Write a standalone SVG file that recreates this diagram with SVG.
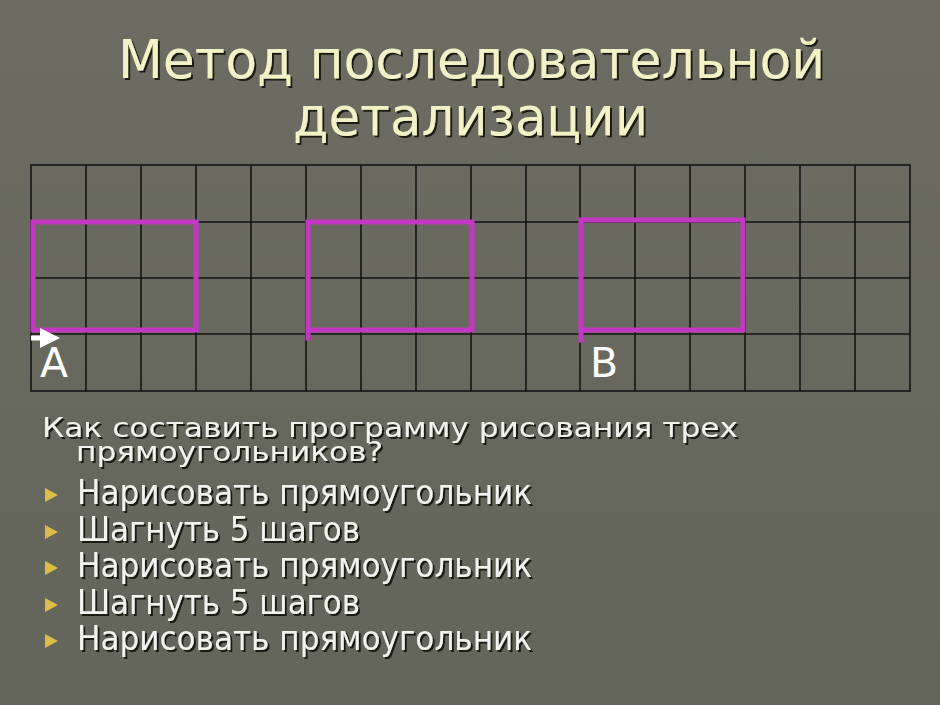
<svg xmlns="http://www.w3.org/2000/svg" width="940" height="705" viewBox="0 0 940 705">
<defs>
<style>
.title{font-family:"DejaVu Sans Condensed","DejaVu Sans",sans-serif;font-size:54px;fill:#f3f2c6;filter:url(#sh);}
.body{font-family:"DejaVu Sans Condensed","DejaVu Sans",sans-serif;fill:#f2f2ee;filter:url(#sh);}
.grid{stroke:#141414;stroke-width:1.6;fill:none;}
.rect{stroke:#c437c4;stroke-width:5;fill:none;stroke-linecap:square;}
.lbl{font-family:"DejaVu Sans",sans-serif;font-size:41px;fill:#ffffff;}
.bul{fill:#dcbd4a;}
</style>
<filter id="sh" x="-5%" y="-20%" width="110%" height="150%">
<feDropShadow dx="2" dy="2" stdDeviation="0.7" flood-color="#16160f" flood-opacity="0.95"/>
</filter>
<linearGradient id="bg" x1="0" y1="0" x2="0" y2="1">
<stop offset="0" stop-color="#6c6c62"/>
<stop offset="1" stop-color="#64655a"/>
</linearGradient>
<marker id="arr" markerWidth="4" markerHeight="4" refX="2" refY="2" orient="auto" markerUnits="strokeWidth">
<path d="M0,0 L4,2 L0,4 Z" fill="#ffffff"/>
</marker>
</defs>
<rect x="0" y="0" width="940" height="705" fill="url(#bg)"/>
<g id="title">
<text class="title" x="118" y="78" textLength="707" lengthAdjust="spacingAndGlyphs">Метод последовательной</text>
<text class="title" x="293" y="135" textLength="355" lengthAdjust="spacingAndGlyphs">детализации</text>
</g>
<g id="grid">
<rect class="grid" x="31" y="165" width="879" height="226"/>
<path class="grid" d="M86,165V391M141,165V391M196,165V391M251,165V391M306,165V391M361,165V391M416,165V391M471,165V391M526,165V391M580,165V391M635,165V391M690,165V391M745,165V391M800,165V391M855,165V391M31,222H910M31,278H910M31,334H910"/>
</g>
<g id="rectangles">
<rect class="rect" x="33" y="222" width="163" height="108"/>
<path class="rect" d="M308,338V222H472V330H308"/>
<path class="rect" d="M581,340V220H743V330H581"/>
</g>
<g id="connectors">
<line x1="31" y1="338" x2="50" y2="338" stroke="#ffffff" stroke-width="5" marker-end="url(#arr)"/>
</g>
<g id="labels">
<text class="lbl" x="40" y="377">A</text>
<text class="lbl" x="590" y="377">B</text>
</g>
<g id="question">
<text class="body" x="42" y="437" font-size="26" textLength="696" lengthAdjust="spacingAndGlyphs">Как составить программу рисования трех</text>
<text class="body" x="76" y="461" font-size="26" textLength="307" lengthAdjust="spacingAndGlyphs">прямоугольников?</text>
</g>
<g id="bullets">
<path class="bul" d="M45,488L58,495L45,502Z"/>
<path class="bul" d="M45,525L58,532L45,539Z"/>
<path class="bul" d="M45,561L58,568L45,575Z"/>
<path class="bul" d="M45,598L58,605L45,612Z"/>
<path class="bul" d="M45,634L58,641L45,648Z"/>
<g font-size="33">
<text class="body" x="77" y="504" textLength="455" lengthAdjust="spacingAndGlyphs">Нарисовать прямоугольник</text>
<text class="body" x="77" y="541" textLength="283" lengthAdjust="spacingAndGlyphs">Шагнуть 5 шагов</text>
<text class="body" x="77" y="577" textLength="455" lengthAdjust="spacingAndGlyphs">Нарисовать прямоугольник</text>
<text class="body" x="77" y="614" textLength="283" lengthAdjust="spacingAndGlyphs">Шагнуть 5 шагов</text>
<text class="body" x="77" y="650" textLength="455" lengthAdjust="spacingAndGlyphs">Нарисовать прямоугольник</text>
</g>
</g>
</svg>
